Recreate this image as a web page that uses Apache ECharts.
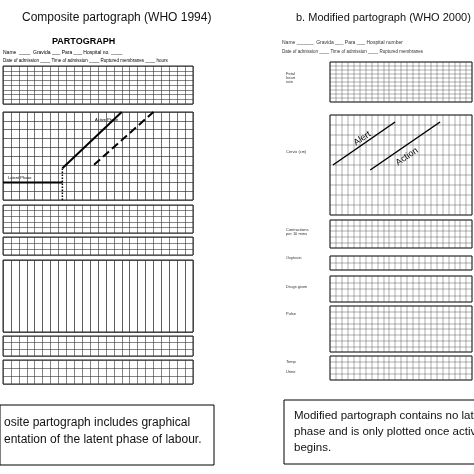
<!DOCTYPE html><html><head><meta charset="utf-8">
<script src="https://cdn.jsdelivr.net/npm/echarts@6/dist/echarts.min.js"></script>
<style>html,body{margin:0;background:#fff}#c{width:474px;height:474px}</style></head><body><div id="c"></div>
<script>
const titles=["Composite partograph (WHO 1994)","b. Modified partograph (WHO 2000)"];
const notes=["osite partograph includes graphical\nentation of the latent phase of labour.","Modified partograph contains no latent\nphase and is only plotted once active\nbegins."];
const hours=24, cervixMax=10;
const leftLatent=[[0,2],[7.5,2]];
const leftDivide=[[7.5,0],[7.5,3.6]];
const leftAlert=[[7.5,3.6],[15,10]];
const leftAction=[[11.5,4],[19,10]];
const rightAlert=[[0.5,5],[11,9.3]];
const rightAction=[[6.8,4.5],[18.6,9.3]];
const labelsR=["Fetal\nheart\nrate","Cervix (cm)","Contractions\nper 10 mins","Oxytocin","Drugs given","Pulse","Temp","Urine"];

const chart=echarts.init(document.getElementById('c'));
const grid=[],xAxis=[],yAxis=[],series=[];
function mk(l,t,w,h,cols,rows,lw){
  const i=grid.length;
  grid.push({left:l,top:t,width:w,height:h,show:true,borderColor:'#222',borderWidth:1});
  const sl={show:true,lineStyle:{color:'#333',width:lw||0.6}};
  xAxis.push({gridIndex:i,type:'value',min:0,max:cols,interval:1,axisLabel:{show:false},axisTick:{show:false},axisLine:{show:false},splitLine:sl});
  yAxis.push({gridIndex:i,type:'value',min:0,max:rows,interval:1,axisLabel:{show:false},axisTick:{show:false},axisLine:{show:false},splitLine:sl});
  return i;
}
function line(i,d,dash,w){series.push({type:'line',xAxisIndex:i,yAxisIndex:i,data:d,symbol:'none',lineStyle:{color:'#000',width:w||2,type:dash||'solid'}});}
mk(3,66,190,38,hours,8);
const lc=mk(3,112,190,88,hours,cervixMax,0.7);
line(lc,leftLatent,0,2);line(lc,leftDivide,'dotted',1.5);line(lc,leftAlert,0,2);line(lc,leftAction,'dashed',2);
mk(3,205,190,28,hours,5);
mk(3,237,190,18,hours,3);
mk(3,260,190,72,hours,1,0.8);
mk(3,336,190,20,hours,3);
mk(3,360,190,24,hours,3);
mk(330,62,142,40,hours,10,0.4);
const rc=mk(330,115,142,100,hours,cervixMax,0.4);
line(rc,rightAlert,0,1.5);line(rc,rightAction,0,1.5);
mk(330,220,142,28,hours,5,0.4);
mk(330,256,142,14,hours,2,0.4);
mk(330,276,142,26,hours,4,0.4);
mk(330,306,142,46,hours,8,0.4);
mk(330,356,142,24,hours,4,0.4);

const g=[
 {type:'text',left:22,top:12,style:{text:titles[0],font:'12px Liberation Sans',fill:'#111'}},
 {type:'text',left:296,top:12,style:{text:titles[1],font:'11px Liberation Sans',fill:'#111'}},
 {type:'text',left:52,top:37,style:{text:'PARTOGRAPH',font:'bold 9px Liberation Sans',fill:'#000'}},
 {type:'text',left:3,top:50,style:{text:'Name  ____  Gravida ___ Para ___ Hospital no. ____',font:'5px Liberation Sans',fill:'#000'}},
 {type:'text',left:3,top:58,style:{text:'Date of admission ____ Time of admission ____ Ruptured membranes ____ hours',font:'4.5px Liberation Sans',fill:'#000'}},
 {type:'text',left:8,top:176,style:{text:'Latent Phase',font:'4px Liberation Sans',fill:'#000'}},
 {type:'text',left:95,top:118,style:{text:'Active Phase',font:'4px Liberation Sans',fill:'#000'}},
 {type:'text',left:282,top:40,style:{text:'Name ______  Gravida ___ Para ___ Hospital number',font:'5px Liberation Sans',fill:'#333'}},
 {type:'text',left:282,top:49,style:{text:'Date of admission ____ Time of admission ____ Ruptured membranes',font:'4.5px Liberation Sans',fill:'#333'}},
 {type:'text',x:352,y:140,rotation:0.6,style:{text:'Alert',font:'9px Liberation Sans',fill:'#000'}},
 {type:'text',x:394,y:160,rotation:0.6,style:{text:'Action',font:'9px Liberation Sans',fill:'#000'}},
 {type:'rect',shape:{x:0,y:405,width:214,height:60},style:{fill:'#fff',stroke:'#000',lineWidth:1}},
 {type:'text',left:4,top:414,style:{text:notes[0],font:'12px Liberation Sans',fill:'#111',lineHeight:17}},
 {type:'rect',shape:{x:284,y:400,width:200,height:64},style:{fill:'#fff',stroke:'#000',lineWidth:1}},
 {type:'text',left:294,top:408,style:{text:notes[1],font:'11.5px Liberation Sans',fill:'#111',lineHeight:16}}
];
const ry=[72,150,228,256,285,312,360,370];
labelsR.forEach((t,k)=>g.push({type:'text',left:286,top:ry[k],style:{text:t,font:'4px Liberation Sans',fill:'#333'}}));
chart.setOption({animation:false,grid,xAxis,yAxis,series,graphic:g});
</script></body></html>
